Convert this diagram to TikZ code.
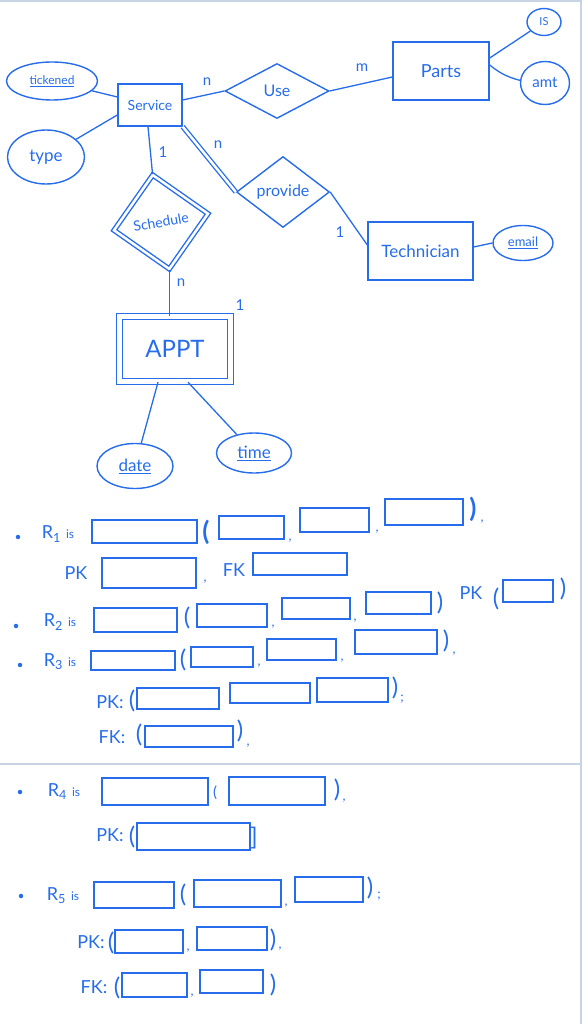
\documentclass[tikz,border=0pt]{standalone}
\usepackage{fontspec}
\setmainfont{Lato}
\usetikzlibrary{shapes.geometric,fit}
\definecolor{pen}{RGB}{38,108,235}
\definecolor{framec}{RGB}{200,212,228}
\newcommand\myRis[1]{R\textsubscript{#1}\hspace{5pt}{\fontsize{12}{12}\selectfont is}}
\newcommand\fs[1]{\fontsize{#1}{#1}\selectfont}
\begin{document}
\begin{tikzpicture}[x=1pt,y=-1pt,
  entsh/.style={draw=pen,line width=1.4pt,rectangle,inner sep=0pt,text=pen},
  attrsh/.style={draw=pen,line width=1.4pt,ellipse,inner sep=0pt,text=pen},
  relsh/.style={draw=pen,line width=1.4pt,diamond,inner sep=0pt,text=pen},
  lbl/.style={text=pen,inner sep=0pt,font=\fs{15}},
  hw/.style={text=pen,inner sep=0pt,font=\fs{18}},
  prn/.style={text=pen,inner sep=0pt,font=\fs{24}},
  cmma/.style={text=pen,inner sep=0pt,font=\fs{13}},
  bx/.style={draw=pen,line width=1.3pt,inner sep=0pt},
  conn/.style={draw=pen,line width=1.3pt},
  bul/.style={circle,fill=pen,inner sep=0pt,minimum size=4.5pt},
  framel/.style={draw=framec,line width=1.5pt}]
\useasboundingbox (0,0) rectangle (585,1024);
% frame
\coordinate (ftl) at (0,1); \coordinate (ftr) at (581,1); \coordinate (fbr) at (581,1024);
\coordinate (sl) at (0,764); \coordinate (sr) at (581,764);
\draw[framel] (ftl) -- (ftr) -- (fbr);
\draw[framel] (sl) -- (sr);

% ER diagram
\node[entsh,minimum width=64pt,minimum height=42pt,font=\fs{14}] (svc) at (150,105) {Service};
\node[attrsh,minimum width=91pt,minimum height=38pt,font=\fs{12}] (tick) at (52,81) {\underline{tickened}};
\node[attrsh,minimum width=77pt,minimum height=54pt,font=\fs{17}] (type) at (46,157) {type};
\node[relsh,minimum width=104pt,minimum height=55pt,font=\fs{16}] (use) at (277,91) {Use};
\node[entsh,minimum width=96pt,minimum height=58pt,font=\fs{18}] (parts) at (441,71) {Parts};
\node[attrsh,minimum width=34pt,minimum height=27pt,font=\fs{11}] (id) at (544,22) {IS};
\node[attrsh,minimum width=49pt,minimum height=43pt,font=\fs{15}] (amt) at (545,83) {amt};
\node[relsh,minimum width=93pt,minimum height=71pt,font=\fs{16}] (prov) at (283,192) {provide};
\node[entsh,minimum width=105pt,minimum height=58pt,font=\fs{17}] (tech) at (420.5,251) {Technician};
\node[attrsh,minimum width=60pt,minimum height=35pt,font=\fs{13}] (email) at (523,243) {\underline{email}};
\node[relsh,double=white,double distance=2.5pt,minimum width=96pt,minimum height=96pt,rotate=10,font=\fs{14}] (sched) at (161,222) {Schedule};
\node[entsh,double=white,double distance=4.5pt,minimum width=111pt,minimum height=65pt,font=\fs{24}] (appt) at (175,349) {APPT};
\node[attrsh,minimum width=76pt,minimum height=45pt,font=\fs{17}] (date) at (135,466) {\underline{date}};
\node[attrsh,minimum width=75pt,minimum height=40pt,font=\fs{17}] (time) at (254,453) {\underline{time}};

\draw[conn] (tick) -- (svc);
\draw[conn] (type) -- ([yshift=-10pt]svc.west);
\draw[conn] ([yshift=5pt]svc.east) -- (use.west);
\draw[conn] (use.east) -- ([yshift=-6pt]parts.west);
\draw[conn] ([yshift=13pt]parts.east) -- (id);
\draw[conn] ([yshift=6pt]parts.east) to[bend right=12] (amt);
\draw[conn,double=white,double distance=2.5pt] (svc.south east) -- (prov.west);
\draw[conn] (prov.east) -- ([yshift=6pt]tech.west);
\draw[conn] ([yshift=4pt]tech.east) -- (email.west);
\draw[conn] ([xshift=-2pt]svc.south) -- (sched.north);
\draw[conn] (sched.south) -- (sched.south |- appt.north);
\draw[conn] ([xshift=-17pt]appt.south) -- (date);
\draw[conn] ([xshift=13pt]appt.south) -- (time);

\node[lbl] (n1) at (207,82) {n};
\node[lbl] (m1) at (362,68) {m};
\node[lbl] (n2) at (218,145) {n};
\node[lbl] (o1) at (163,152) {1};
\node[lbl] (o2) at (340,232) {1};
\node[lbl] (n3) at (181,283) {n};
\node[lbl] (o3) at (240,305) {1};

% ---- R1
\node[bul] (b1) at (18,537) {};
\node[hw] (r1l) at (58,534) {\myRis{1}};
\node[bx,fit={(92,520)(197,543)}] (r1a) {};
\node[prn,font=\fs{26}\bfseries] (r1p) at (206,532) {(};
\node[bx,fit={(219,516)(284,539)}] (r1b) {};
\node[cmma] (r1c1) at (290,541) {,};
\node[bx,fit={(300,508)(369,532)}] (r1c) {};
\node[cmma] (r1c2) at (377,532) {,};
\node[bx,fit={(385,499)(463,525)}] (r1d) {};
\node[prn,font=\fs{26}\bfseries] (r1q) at (473,509) {)};
\node[cmma] (r1c3) at (482,522) {,};
\node[hw] (r1pk) at (76,573) {PK};
\node[bx,fit={(102,558)(196,588)}] (r1e) {};
\node[cmma] (r1c4) at (205,582) {,};
\node[hw] (r1fk) at (234,570) {FK};
\node[bx,fit={(253,553)(347,575)}] (r1f) {};

% ---- R2
\node[bul] (b2) at (16,626) {};
\node[hw] (r2l) at (60,622) {\myRis{2}};
\node[bx,fit={(94,608)(177,632)}] (r2a) {};
\node[prn] (r2p) at (187,618) {(};
\node[bx,fit={(197,604)(267,627)}] (r2b) {};
\node[cmma] (r2c1) at (273,627) {,};
\node[bx,fit={(282,598)(350,619)}] (r2c) {};
\node[cmma] (r2c2) at (355,621) {,};
\node[bx,fit={(366,592)(431,614)}] (r2d) {};
\node[prn] (r2q) at (440,603) {)};
\node[hw] (r2pk) at (471,593) {PK};
\node[prn] (r2p2) at (496,599) {(};
\node[bx,fit={(503,580)(553,602)}] (r2e) {};
\node[prn] (r2q2) at (563,589) {)};

% ---- R3
\node[bul] (b3) at (20,665) {};
\node[hw] (r3l) at (60,662) {\myRis{3}};
\node[bx,fit={(91,651)(175,670)}] (r3a) {};
\node[prn] (r3p) at (183,660) {(};
\node[bx,fit={(191,647)(253,667)}] (r3b) {};
\node[cmma] (r3c1) at (259,666) {,};
\node[bx,fit={(267,639)(336,660)}] (r3c) {};
\node[cmma] (r3c2) at (342,661) {,};
\node[bx,fit={(355,630)(437,654)}] (r3d) {};
\node[prn] (r3q) at (446,641) {)};
\node[cmma] (r3c3) at (454,654) {,};
\node[hw] (r3pk) at (110,702) {PK:};
\node[prn] (r3p2) at (132,701) {(};
\node[bx,fit={(137,688)(219,709)}] (r3e) {};
\node[bx,fit={(230,683)(310,703)}] (r3f) {};
\node[bx,fit={(317,678)(388,702)}] (r3g) {};
\node[prn] (r3q2) at (395,688) {)};
\node[cmma] (r3s) at (402,699) {;};
\node[hw] (r3fk) at (112,737) {FK:};
\node[prn] (r3p3) at (139,735) {(};
\node[bx,fit={(145,726)(233,747)}] (r3h) {};
\node[prn] (r3q3) at (240,731) {)};
\node[cmma] (r3c4) at (248,746) {,};

% ---- R4
\node[bul] (b4) at (20,792) {};
\node[hw] (r4l) at (64,792) {\myRis{4}};
\node[bx,fit={(102,778)(208,805)}] (r4a) {};
\node[prn,font=\fs{15}] (r4p) at (215,793) {(};
\node[bx,fit={(229,777)(325,805)}] (r4b) {};
\node[prn] (r4q) at (337,790) {)};
\node[cmma] (r4c) at (344,801) {,};
\node[hw] (r4pk) at (110,835) {PK:};
\node[prn] (r4p2) at (132,837) {(};
\node[bx,fit={(137,823)(250,850)}] (r4e) {};
\node[prn] (r4q2) at (254,838) {]};

% ---- R5
\node[bul] (b5) at (21,896) {};
\node[hw] (r5l) at (63,896) {\myRis{5}};
\node[bx,fit={(94,882)(174,908)}] (r5a) {};
\node[prn] (r5p) at (183,895) {(};
\node[bx,fit={(194,880)(281,907)}] (r5b) {};
\node[cmma] (r5c1) at (286,906) {,};
\node[bx,fit={(295,877)(363,902)}] (r5c) {};
\node[prn] (r5q) at (370,888) {)};
\node[cmma] (r5s) at (379,896) {;};
\node[hw] (r5pk) at (91,942) {PK:};
\node[prn] (r5p2) at (111,943) {(};
\node[bx,fit={(115,930)(183,953)}] (r5e) {};
\node[cmma] (r5c2) at (188,951) {,};
\node[bx,fit={(197,927)(267,950)}] (r5f) {};
\node[prn] (r5q2) at (273,940) {)};
\node[cmma] (r5c3) at (280,949) {,};
\node[hw] (r5fk) at (94,987) {FK:};
\node[prn] (r5p3) at (117,988) {(};
\node[bx,fit={(122,973)(187,997)}] (r5g) {};
\node[cmma] (r5c4) at (192,996) {,};
\node[bx,fit={(200,970)(263,993)}] (r5h) {};
\node[prn] (r5q3) at (273,985) {)};
\end{tikzpicture}
\end{document}
